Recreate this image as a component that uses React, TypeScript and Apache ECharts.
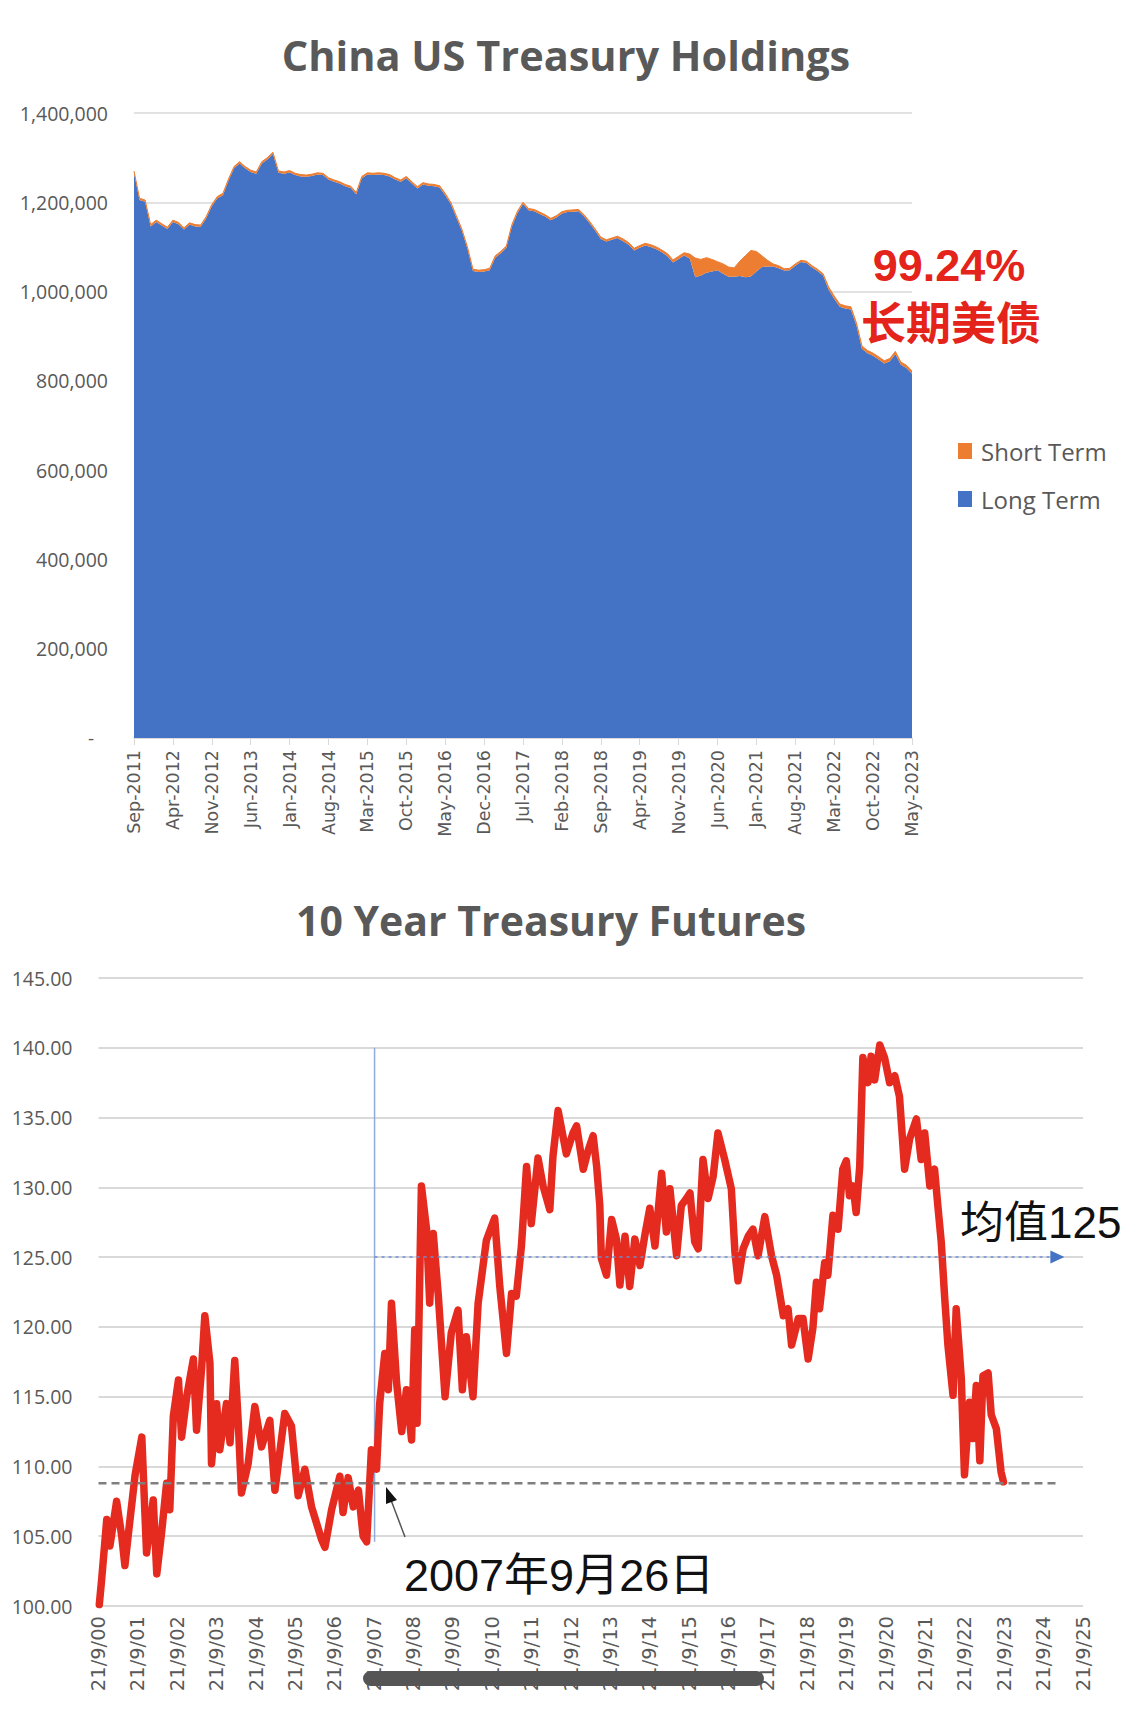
import { useEffect, useRef } from "react";
import * as echarts from "echarts";

// ---- China US Treasury Holdings (monthly, USD thousands of millions) ----
const MONTH_NAMES = ["Jan", "Feb", "Mar", "Apr", "May", "Jun", "Jul", "Aug", "Sep", "Oct", "Nov", "Dec"];
const FIRST_MONTH = 8; // Sep
const FIRST_YEAR = 2011;
const MONTH_COUNT = 141; // Sep-2011 .. May-2023
const holdingMonths = Array.from({ length: MONTH_COUNT }, (_, i) => {
  const m = FIRST_MONTH + i;
  return `${MONTH_NAMES[m % 12]}-${FIRST_YEAR + Math.floor(m / 12)}`;
});

// values in thousands (axis shows them x1000)
const longTerm = [
  1266, 1205, 1201, 1146, 1156, 1148, 1140, 1156, 1151, 1139, 1150, 1146, 1145, 1164, 1191, 1209,
  1216, 1248, 1276, 1287, 1276, 1268, 1264, 1287, 1296, 1308, 1266, 1264, 1267, 1261, 1258, 1257,
  1259, 1262, 1261, 1251, 1246, 1242, 1236, 1232, 1218, 1254, 1262, 1261, 1262, 1261, 1258, 1251,
  1246, 1254, 1242, 1231, 1240, 1237, 1236, 1233, 1216, 1196, 1166, 1136, 1096, 1046, 1044, 1045,
  1048, 1076, 1086, 1098, 1146, 1176, 1196, 1182, 1180, 1174, 1168, 1160, 1166, 1175, 1178, 1179,
  1180, 1168, 1153, 1136, 1118, 1112, 1116, 1120, 1113, 1105, 1092, 1098, 1103, 1100, 1095, 1088,
  1079, 1065, 1073, 1081, 1074, 1032, 1036, 1042, 1045, 1048, 1040, 1033, 1033, 1035, 1032, 1034,
  1045, 1055, 1056, 1056, 1052, 1047, 1048, 1058, 1066, 1064, 1054, 1046, 1036, 1004, 984, 966,
  962, 960, 924, 872, 862, 856, 848, 839, 844, 860, 836, 829, 816,
];
const shortTerm = [
  4, 4, 4, 4, 4, 4, 4, 4, 4, 4, 4, 4, 4, 4, 4, 4,
  4, 4, 4, 4, 4, 4, 4, 4, 4, 4, 4, 4, 4, 4, 4, 4,
  4, 4, 4, 4, 4, 4, 4, 4, 4, 4, 4, 4, 4, 4, 4, 4,
  4, 4, 4, 4, 4, 4, 4, 4, 4, 4, 4, 4, 4, 4, 4, 4,
  4, 4, 4, 4, 4, 4, 4, 4, 4, 4, 4, 4, 4, 4, 4, 4,
  4, 4, 4, 4, 4, 4, 4, 4, 5, 5, 5, 5, 5, 5, 5, 5,
  6, 6, 6, 6, 10, 43, 36, 34, 27, 19, 22, 22, 20, 33, 48, 58,
  45, 25, 14, 6, 6, 4, 4, 4, 4, 4, 4, 4, 4, 6, 6, 6,
  6, 6, 6, 6, 6, 6, 6, 6, 6, 6, 6, 6, 6,
];

// ---- 10 Year Treasury Futures (x = years after 21/9/2000) ----
const futYears = [
  0.02, 0.08, 0.21, 0.29, 0.46, 0.59, 0.67, 0.76, 0.93, 1.1, 1.22, 1.39, 1.48, 1.6, 1.73, 1.81,
  1.9, 2.03, 2.11, 2.24, 2.41, 2.49, 2.62, 2.7, 2.83, 2.87, 3.0, 3.08, 3.25, 3.34, 3.46, 3.55,
  3.63, 3.8, 3.97, 4.14, 4.35, 4.48, 4.73, 4.9, 5.07, 5.24, 5.41, 5.66, 5.75, 5.92, 6.13, 6.21,
  6.34, 6.47, 6.6, 6.72, 6.81, 6.93, 7.06, 7.14, 7.27, 7.36, 7.44, 7.57, 7.7, 7.82, 7.95, 8.03,
  8.09, 8.2, 8.33, 8.41, 8.5, 8.63, 8.8, 8.96, 9.13, 9.24, 9.34, 9.51, 9.64, 9.85, 10.06, 10.19,
  10.36, 10.49, 10.61, 10.74, 10.87, 10.99, 11.16, 11.29, 11.46, 11.54, 11.67, 11.88, 12.05, 12.14,
  12.31, 12.44, 12.56, 12.65, 12.73, 12.77, 12.9, 13.03, 13.15, 13.24, 13.37, 13.49, 13.62, 13.75,
  13.87, 14.0, 14.13, 14.3, 14.42, 14.51, 14.68, 14.8, 14.93, 15.02, 15.14, 15.23, 15.35, 15.48,
  15.61, 15.73, 15.9, 16.07, 16.16, 16.24, 16.37, 16.5, 16.62, 16.75, 16.92, 17.09, 17.22, 17.39,
  17.51, 17.6, 17.77, 17.89, 18.02, 18.14, 18.23, 18.31, 18.44, 18.52, 18.65, 18.78, 18.9, 18.99,
  19.07, 19.16, 19.24, 19.33, 19.41, 19.54, 19.62, 19.71, 19.84, 19.96, 20.09, 20.22, 20.34, 20.47,
  20.6, 20.77, 20.89, 20.98, 21.11, 21.23, 21.32, 21.4, 21.49, 21.57, 21.7, 21.78, 21.91, 21.99,
  22.12, 22.21, 22.29, 22.38, 22.46, 22.59, 22.67, 22.8, 22.92, 22.98,
];
const futPrices = [
  100.1, 101.9, 106.2, 104.3, 107.5, 105.0, 102.9, 105.2, 109.4, 112.1, 103.8, 107.6, 102.3, 105.2, 108.8, 106.9,
  113.6, 116.2, 112.1, 115.0, 117.7, 112.6, 117.1, 120.8, 117.4, 110.2, 114.5, 111.2, 114.5, 111.7, 117.6, 113.1,
  108.1, 110.2, 114.3, 111.4, 113.3, 108.3, 113.8, 112.9, 107.9, 109.8, 107.1, 104.8, 104.2, 106.9, 109.3, 106.7,
  109.2, 107.1, 108.3, 105.0, 104.6, 111.2, 109.8, 114.5, 118.1, 115.5, 121.7, 116.0, 112.5, 115.5, 111.9, 119.8,
  113.1, 130.1, 127.0, 121.7, 126.7, 122.2, 115.0, 119.6, 121.2, 115.5, 119.3, 115.0, 121.7, 126.2, 127.8, 122.9,
  118.1, 122.4, 122.2, 125.8, 131.5, 127.4, 132.1, 130.1, 128.4, 132.2, 135.5, 132.4, 133.9, 134.4,
  131.3, 132.7, 133.7, 131.5, 128.7, 124.9, 123.7, 127.7, 126.3, 123.0, 126.5, 122.9, 126.3, 124.4,
  126.5, 128.5, 125.8, 131.0, 126.8, 129.9, 125.1, 128.7, 129.2, 129.6, 126.1, 125.6, 132.0, 129.2,
  130.8, 133.9, 132.0, 129.9, 125.4, 123.3, 125.6, 126.5, 127.0, 125.1, 127.9, 125.1, 123.7, 120.8,
  121.3, 118.7, 120.6, 120.6, 117.7, 119.9, 123.2, 121.3, 124.6, 123.7, 128.0, 127.0, 131.3, 131.9,
  129.4, 130.1, 128.2, 131.5, 139.3, 137.5, 139.4, 137.7, 140.2, 139.3, 137.5, 138.0, 136.5, 131.3,
  133.5, 134.9, 132.0, 133.9, 130.1, 131.3, 128.5, 126.1, 122.0, 118.7, 115.1, 121.3, 116.3, 109.4,
  114.6, 112.0, 115.8, 110.4, 116.5, 116.7, 113.7, 112.7, 109.6, 108.9,
];
const futYearLabels = Array.from({ length: 26 }, (_, i) => `21/9/${String(i).padStart(2, "0")}`);

const MEAN_LEVEL = 125;
const CRISIS_YEAR = 7.01; // 2007-09-26
const CRISIS_LEVEL = 108.8;
const REF_LINE_END = 24.35;

const GRAY = "#595959";

export default function App() {
  const chartRef = useRef<HTMLDivElement>(null);

  useEffect(() => {
    if (!chartRef.current) return;
    const chart = echarts.init(chartRef.current, undefined, { renderer: "svg" });

    const futData = futYears.map((t, i) => [t, futPrices[i]]);

    chart.setOption({
      animation: false,
      backgroundColor: "#fff",
      textStyle: { fontFamily: "'Open Sans', sans-serif" },
      legend: {
        data: ["Short Term", "Long Term"],
        orient: "vertical",
        left: 953,
        top: 434,
        icon: "rect",
        itemWidth: 14,
        itemHeight: 16,
        itemGap: 24,
        selectedMode: false,
        textStyle: { fontSize: 24, color: GRAY, fontFamily: "'Open Sans'", padding: [0, 0, 0, 4] },
      },
      grid: [
        { left: 134, right: 213, top: 113, bottom: 973 },
        { left: 98.5, right: 42, top: 978, bottom: 105 },
      ],
      xAxis: [
        {
          gridIndex: 0,
          type: "category",
          data: holdingMonths,
          boundaryGap: false,
          axisLine: { lineStyle: { color: "#D9D9D9", width: 1.5 } },
          axisTick: { show: true, interval: 6, length: 7, lineStyle: { color: "#D9D9D9" } },
          axisLabel: {
            interval: 6,
            rotate: 90,
            fontFamily: "'DejaVu Sans'",
            fontSize: 17.5,
            color: GRAY,
            margin: 12,
          },
        },
        {
          gridIndex: 1,
          type: "value",
          min: 0,
          max: 25,
          interval: 1,
          axisLine: { show: false },
          axisTick: { show: false },
          splitLine: { show: false },
          axisLabel: {
            rotate: 90,
            showMinLabel: true,
            showMaxLabel: true,
            formatter: (v: number) => futYearLabels[Math.round(v)],
            fontFamily: "'DejaVu Sans'",
            fontSize: 19.5,
            color: GRAY,
            margin: 10,
          },
        },
      ],
      yAxis: [
        {
          gridIndex: 0,
          type: "value",
          min: 0,
          max: 1400000,
          interval: 200000,
          axisLine: { show: false },
          axisTick: { show: false },
          splitLine: { lineStyle: { color: "#D9D9D9", width: 1.5 } },
          axisLabel: {
            margin: 26,
            fontSize: 19.5,
            color: GRAY,
            formatter: (v: number) => (v === 0 ? "{d|-}" : v.toLocaleString("en-US")),
            rich: { d: { fontSize: 19, color: GRAY, padding: [0, 14, 0, 0] } },
          },
        },
        {
          gridIndex: 1,
          type: "value",
          min: 100,
          max: 145,
          interval: 5,
          axisLine: { show: false },
          axisTick: { show: false },
          splitLine: { lineStyle: { color: "#D9D9D9", width: 2 } },
          axisLabel: {
            margin: 26,
            fontSize: 19.5,
            color: GRAY,
            formatter: (v: number) => v.toFixed(2),
          },
        },
      ],
      series: [
        {
          name: "Long Term",
          type: "line",
          xAxisIndex: 0,
          yAxisIndex: 0,
          stack: "holdings",
          data: longTerm.map((v) => v * 1000),
          symbol: "none",
          color: "#4472C4",
          lineStyle: { width: 0 },
          areaStyle: { color: "#4472C4", opacity: 1 },
        },
        {
          name: "Short Term",
          type: "line",
          xAxisIndex: 0,
          yAxisIndex: 0,
          stack: "holdings",
          data: shortTerm.map((v) => v * 1000),
          symbol: "none",
          color: "#ED7D31",
          lineStyle: { width: 1, color: "#ED7D31" },
          areaStyle: { color: "#ED7D31", opacity: 1 },
        },
        {
          name: "crisis",
          type: "line",
          xAxisIndex: 1,
          yAxisIndex: 1,
          z: 1,
          data: [
            [CRISIS_YEAR, 104.6],
            [CRISIS_YEAR, 140],
          ],
          symbol: "none",
          silent: true,
          lineStyle: { color: "#8FAADC", width: 1.5 },
        },
        {
          name: "futures",
          type: "line",
          xAxisIndex: 1,
          yAxisIndex: 1,
          z: 3,
          data: futData,
          symbol: "none",
          lineStyle: { color: "#E52B1F", width: 7.5, join: "round", cap: "round" },
        },
        {
          name: "mean",
          type: "line",
          xAxisIndex: 1,
          yAxisIndex: 1,
          z: 4,
          data: [
            { value: [CRISIS_YEAR, MEAN_LEVEL], symbol: "none" },
            { value: [REF_LINE_END, MEAN_LEVEL], symbol: "triangle", symbolSize: [13, 14], symbolRotate: -90 },
          ],
          showAllSymbol: true,
          silent: true,
          color: "#4472C4",
          itemStyle: { color: "#4472C4" },
          lineStyle: { color: "#6D8FD6", width: 1.5, type: [3, 4] },
        },
        {
          name: "crisisLevel",
          type: "line",
          xAxisIndex: 1,
          yAxisIndex: 1,
          z: 5,
          data: [
            [0, CRISIS_LEVEL],
            [REF_LINE_END, CRISIS_LEVEL],
          ],
          symbol: "none",
          silent: true,
          lineStyle: { color: "#7F7F7F", width: 2.5, type: [8, 5] },
        },
      ],
      graphic: [
        {
          type: "text",
          x: 566,
          y: 55,
          style: {
            text: "China US Treasury Holdings",
            fill: GRAY,
            font: "bold 41.5px 'Open Sans'",
            textAlign: "center",
            textVerticalAlign: "middle",
          },
        },
        {
          type: "text",
          x: 551,
          y: 920,
          style: {
            text: "10 Year Treasury Futures",
            fill: GRAY,
            font: "bold 41px 'Open Sans'",
            textAlign: "center",
            textVerticalAlign: "middle",
          },
        },
        {
          type: "text",
          x: 949,
          y: 265,
          style: {
            text: "99.24%",
            fill: "#E4231B",
            font: "bold 45px 'Liberation Sans'",
            textAlign: "center",
            textVerticalAlign: "middle",
          },
        },
        {
          type: "text",
          x: 951,
          y: 320,
          style: {
            text: "长期美债",
            fill: "#E4231B",
            font: "bold 45px 'Noto Sans CJK SC'",
            textAlign: "center",
            textVerticalAlign: "middle",
          },
        },
        {
          type: "text",
          x: 960,
          y: 1222,
          style: {
            text: "均值125",
            fill: "#111",
            font: "44px 'Liberation Sans', 'Noto Sans CJK SC'",
            textAlign: "left",
            textVerticalAlign: "middle",
          },
        },
        {
          type: "text",
          x: 404,
          y: 1575,
          style: {
            text: "2007年9月26日",
            fill: "#111",
            font: "45px 'Liberation Sans', 'Noto Sans CJK SC'",
            textAlign: "left",
            textVerticalAlign: "middle",
          },
        },
        {
          type: "line",
          shape: { x1: 405, y1: 1537, x2: 391, y2: 1500 },
          style: { stroke: "#555", lineWidth: 1.5 },
          z: 10,
        },
        {
          type: "polygon",
          shape: {
            points: [
              [386, 1487],
              [397, 1500],
              [386, 1504],
            ],
          },
          style: { fill: "#111" },
          z: 10,
        },
        {
          type: "rect",
          shape: { x: 363, y: 1671, width: 401, height: 15, r: 7.5 },
          style: { fill: "#555" },
          z: 20,
        },
      ],
    });

    return () => chart.dispose();
  }, []);

  return (
    <div
      ref={chartRef}
      style={{ position: "absolute", left: 0, top: 0, width: 1125, height: 1711, background: "#fff" }}
    />
  );
}
